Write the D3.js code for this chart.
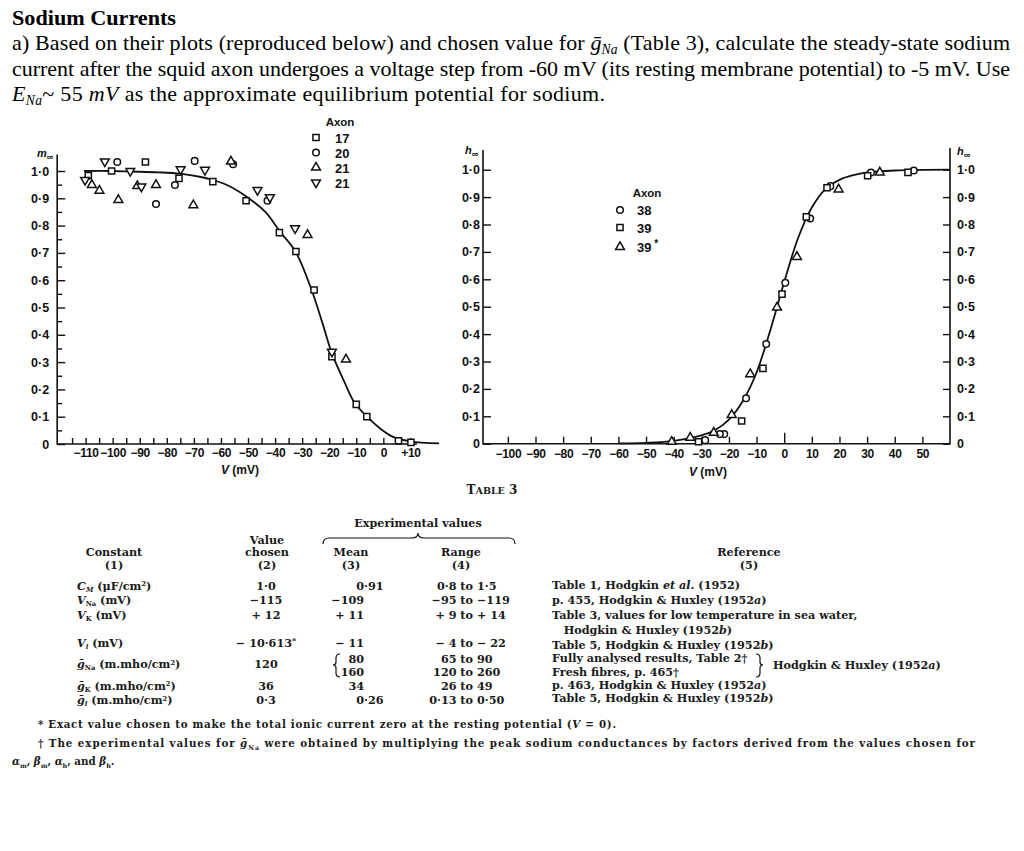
<!DOCTYPE html>
<html>
<head>
<meta charset="utf-8">
<script src="https://cdn.jsdelivr.net/npm/d3@7"></script>
<style>
  body { margin: 0; background: #fff; }
  svg { display: block; }
  .q text { font-family: "Liberation Serif", "Times New Roman", serif; font-size: 22px; fill: #000; }
  .ax text, .lab, .leg text { font-family: "Liberation Sans", Arial, sans-serif; fill: #111; font-weight: bold; }
  .ax line { stroke: #111; stroke-width: 1.4; }
  .tb text { font-family: "DejaVu Serif", serif; font-size: 11.2px; font-weight: bold; fill: #1a1a1a; }
  .fn text { font-family: "DejaVu Serif", serif; font-size: 10.3px; font-weight: bold; fill: #1a1a1a; }
</style>
</head>
<body>
<div id="page"></div>
<script>
// ---- left plot (m-infinity) data, V in mV ----
const leftAxon17 = [[-109.0,0.983],[-100.4,1.0],[-87.9,1.033],[-75.5,0.973],[-63.0,0.961],[-50.7,0.891],
  [-38.4,0.774],[-32.3,0.705],[-25.6,0.564],[-19.0,0.32],[-10.0,0.145],[-6.1,0.10],[5.6,0.012],[10.2,0.006]];
const leftAxon20 = [[-98.3,1.033],[-84.0,0.879],[-77.0,0.949],[-69.7,1.037],[-55.5,1.025],[-42.8,0.891]];
const leftAxon21a = [[-107.7,0.949],[-104.9,0.928],[-97.9,0.894],[-90.9,0.945],[-84.0,0.949],[-70.2,0.875],
  [-56.3,1.035],[-28.0,0.766],[-13.8,0.31]];
const leftAxon21b = [[-110.2,0.967],[-102.9,1.035],[-93.5,1.0],[-89.4,0.943],[-74.9,1.006],[-65.9,1.004],
  [-46.5,0.93],[-41.9,0.904],[-32.6,0.79],[-19.0,0.338]];
const leftCurve = [[-110.6,1.0],[-100.5,1.0],[-93.2,0.998],[-82.9,0.995],[-75.1,0.99],[-67.4,0.978],[-62.9,0.967],
  [-57.0,0.945],[-50.4,0.905],[-43.6,0.85],[-38.2,0.778],[-32.4,0.704],[-26.5,0.564],[-22.4,0.44],[-19.0,0.332],
  [-14.6,0.232],[-10.5,0.149],[-6.0,0.10],[-1.1,0.056],[3.6,0.026],[9.8,0.01],[20.6,0.002]];

// ---- right plot (h-infinity) data ----
const rightAxon38 = [[46.9,0.997],[31.4,0.99],[16.7,0.94],[9.4,0.822],[0.4,0.587],[-6.5,0.364],[-13.8,0.166],
  [-21.7,0.035],[-23.3,0.035],[-28.6,0.013]];
const rightAxon39 = [[44.8,0.99],[30.2,0.978],[15.5,0.934],[8.0,0.828],[-0.8,0.546],[-7.7,0.275],[-15.4,0.083],[-31,0.007]];
const rightAxon39s = [[34.6,0.99],[19.7,0.928],[4.6,0.682],[-2.6,0.497],[-12.3,0.254],[-19,0.105],[-25.5,0.04],
  [-34,0.022],[-40.7,0.007]];
const rightCurve = [[-60,0.001],[-50,0.003],[-40,0.01],[-30,0.03],[-25,0.05],[-20,0.088],[-15,0.155],[-10,0.26],
  [-5,0.415],[0,0.59],[5,0.75],[10,0.862],[15,0.93],[20,0.963],[25,0.98],[30,0.99],[40,0.997],[60,1.0]];

// ---- ticks ----
const yTicks = [0,0.1,0.2,0.3,0.4,0.5,0.6,0.7,0.8,0.9,1.0];
const yMinorL = [0.05,0.15,0.25,0.35,0.45,0.55,0.65,0.75,0.85,0.95];
const leftXTicks = [-110,-100,-90,-80,-70,-60,-50,-40,-30,-20,-10,0,10];
const leftXMinor = [-115,-105,-95,-85,-75,-65,-55,-45,-35,-25,-15,-5,5];
const rightXTicks = [-100,-90,-80,-70,-60,-50,-40,-30,-20,-10,0,10,20,30,40,50];

const leftLegend = [["square","17"],["circle","20"],["up","21"],["down","21"]];
const rightLegend = [["circle","38"],["square","39"],["up","39"]];

// ---- table 3 ----
const tConst = [
  [["C","i"],["M","i sub"],[" (μF/cm"],["2","sup"],[")"]],
  [["V","i"],["Na","sub"],[" (mV)"]],
  [["V","i"],["K","sub"],[" (mV)"]],
  [["V","i"],["l","i sub"],[" (mV)"]],
  [["ḡ","i"],["Na","sub"],[" (m.mho/cm"],["2","sup"],[")"]],
  [["ḡ","i"],["K","sub"],[" (m.mho/cm"],["2","sup"],[")"]],
  [["ḡ","i"],["l","i sub"],[" (m.mho/cm"],["2","sup"],[")"]]
];
const tChosen = ["1·0","−115","+ 12","− 10·613*","120","36","0·3"];
const tMean = [["0·91"],["−109"],["+ 11"],["− 11"],["80","160"],["34"],["0·26"]];
const tRange = [["0·8 to 1·5"],["−95 to −119"],["+ 9 to + 14"],["− 4 to − 22"],["65 to 90","120 to 260"],["26 to 49"],["0·13 to 0·50"]];
const tRefs = [
  [["Table 1, Hodgkin "],["et al.","i"],[" (1952)"]],
  [["p. 455, Hodgkin & Huxley (1952"],["a","i"],[")"]],
  [["Table 3, values for low temperature in sea water,"]],
  [["   Hodgkin & Huxley (1952"],["b","i"],[")"]],
  [["Table 5, Hodgkin & Huxley (1952"],["b","i"],[")"]],
  [["Fully analysed results, Table 2†"]],
  [["Fresh fibres, p. 465†"]],
  [["p. 463, Hodgkin & Huxley (1952"],["a","i"],[")"]],
  [["Table 5, Hodgkin & Huxley (1952"],["b","i"],[")"]]
];

const W = 1024, H = 851;
const svg = d3.select("#page").append("svg").attr("width", W).attr("height", H);

// rich text helper: parts are [string, flags]
function rich(text, parts, size, subK, subShift) {
  const k = subK || 0.7, ds = subShift || 0.25;
  let shift = 0;
  parts.forEach(p => {
    const fl = (p[1] || "").split(" ");
    const target = fl.includes("sub") ? size * ds : fl.includes("sup") ? -size * 0.3 : 0;
    const t = text.append("tspan").text(p[0]);
    if (target - shift !== 0) t.attr("dy", target - shift);
    shift = target;
    if (fl.includes("i")) t.style("font-style", "italic");
    if (fl.includes("sub") || fl.includes("sup")) t.style("font-size", (size * k) + "px");
  });
  return text;
}

// ---- question text ----
const q = svg.append("g").attr("class", "q");
q.append("text").attr("x", 12).attr("y", 25).style("font-weight", "bold")
  .attr("textLength", 164).attr("lengthAdjust", "spacingAndGlyphs").text("Sodium Currents");
rich(q.append("text").attr("x", 12).attr("y", 50).attr("textLength", 998), [
  ["a) Based on their plots (reproduced below) and chosen value for "], ["ḡ","i"], ["Na","i sub"],
  [" (Table 3), calculate the steady-state sodium"]], 22, 0.62, 0.18);
rich(q.append("text").attr("x", 12).attr("y", 76).attr("textLength", 998), [
  ["current after the squid axon undergoes a voltage step from -60 mV (its resting membrane potential) to -5 mV. Use"]], 22);
rich(q.append("text").attr("x", 12).attr("y", 101).attr("textLength", 593), [
  ["E","i"], ["Na","i sub"], ["~ 55 "], ["mV","i"], [" as the approximate equilibrium potential for sodium."]], 22, 0.62, 0.18);

// ---- shared marker drawing ----
const symbols = {
  square: d3.symbol(d3.symbolSquare, 38)(),
  circle: d3.symbol(d3.symbolCircle, 34)(),
  up: d3.symbol(d3.symbolTriangle, 34)(),
  down: d3.symbol(d3.symbolTriangle, 34)()
};
function marker(g, shape, cx, cy) {
  return g.append("path").attr("d", symbols[shape])
    .attr("transform", `translate(${cx},${cy})` + (shape === "down" ? " rotate(180)" : ""))
    .attr("fill", "#fff").attr("stroke", "#111").attr("stroke-width", 1.5);
}
function drawSeries(g, data, shape, x, y) {
  data.forEach(d => marker(g, shape, x(d[0]), y(d[1])));
}
const fmtY = v => v === 0 ? "0" : v.toFixed(1).replace(".", "·");
const styleY = g => g.selectAll("text").style("font-size", "12.5px");
const styleX = g => g.selectAll("text").style("font-size", "12px").style("letter-spacing", "-0.3px");

// ================= LEFT PLOT =================
const xL = d3.scaleLinear().domain([-120.5, 12.4]).range([57.2, 416.9]);
const yL = d3.scaleLinear().domain([0, 1]).range([444, 171]);
const gL = svg.append("g");

gL.append("g").attr("class", "ax").attr("transform", `translate(${xL(-120.5)},0)`)
  .call(d3.axisLeft(yL).tickValues(yTicks).tickFormat(fmtY).tickSizeInner(-8).tickSizeOuter(0).tickPadding(8))
  .call(g => g.select(".domain").remove()).call(styleY);
gL.append("g").attr("class", "ax").attr("transform", `translate(${xL(-120.5)},0)`)
  .call(d3.axisLeft(yL).tickValues(yMinorL).tickFormat("").tickSizeInner(-5).tickSizeOuter(0))
  .call(g => g.select(".domain").remove());
gL.append("g").attr("class", "ax").attr("transform", `translate(0,${yL(0)})`)
  .call(d3.axisBottom(xL).tickValues(leftXTicks)
    .tickFormat(v => v < 0 ? "−" + (-v) : v > 0 ? "+" + v : "0")
    .tickSizeInner(-6).tickSizeOuter(0).tickPadding(4))
  .call(g => g.select(".domain").remove()).call(styleX);
gL.append("g").attr("class", "ax").attr("transform", `translate(0,${yL(0)})`)
  .call(d3.axisBottom(xL).tickValues(leftXMinor).tickFormat("").tickSizeInner(-6).tickSizeOuter(0))
  .call(g => g.select(".domain").remove());
gL.append("path").attr("fill", "none").attr("stroke", "#111").attr("stroke-width", 1.6)
  .attr("d", `M${xL(-120.5)},${yL(1.06)}V${yL(0)}H${xL(12.4)}`);

gL.append("path").datum(leftCurve).attr("fill", "none").attr("stroke", "#111").attr("stroke-width", 1.8)
  .attr("d", d3.line().x(d => xL(d[0])).y(d => yL(d[1])).curve(d3.curveCatmullRom.alpha(0.5)));

drawSeries(gL, leftAxon17, "square", xL, yL);
drawSeries(gL, leftAxon20, "circle", xL, yL);
drawSeries(gL, leftAxon21a, "up", xL, yL);
drawSeries(gL, leftAxon21b, "down", xL, yL);

rich(gL.append("text").attr("class", "lab").attr("x", 37).attr("y", 157).style("font-size", "11px"),
  [["m","i"], ["∞","sub"]], 11, 0.85);
rich(gL.append("text").attr("class", "lab").attr("x", 240).attr("y", 474).attr("text-anchor", "middle").style("font-size", "12px"),
  [["V","i"], [" (mV)"]], 12);

const legL = gL.append("g").attr("class", "leg");
legL.append("text").attr("x", 340).attr("y", 126).attr("text-anchor", "middle").style("font-size", "11.5px").text("Axon");
leftLegend.forEach((d, i) => {
  const cy = 137.5 + i * 15;
  marker(legL, d[0], 316, cy);
  legL.append("text").attr("x", 335).attr("y", cy + 5).style("font-size", "13px").text(d[1]);
});

// ================= RIGHT PLOT =================
const xR = d3.scaleLinear().domain([-109, 60]).range([483, 950]);
const yR = d3.scaleLinear().domain([0, 1]).range([443.7, 169.7]);
const gR = svg.append("g");

gR.append("g").attr("class", "ax").attr("transform", `translate(${xR(-109)},0)`)
  .call(d3.axisLeft(yR).tickValues(yTicks).tickFormat(fmtY).tickSizeInner(-8).tickSizeOuter(0).tickPadding(3))
  .call(g => g.select(".domain").remove()).call(styleY);
gR.append("g").attr("class", "ax").attr("transform", `translate(${xR(60)},0)`)
  .call(d3.axisRight(yR).tickValues(yTicks).tickFormat(fmtY).tickSizeInner(-7).tickSizeOuter(0).tickPadding(7))
  .call(g => g.select(".domain").remove()).call(styleY);
gR.append("g").attr("class", "ax").attr("transform", `translate(0,${yR(0)})`)
  .call(d3.axisBottom(xR).tickValues(rightXTicks).tickFormat(v => v < 0 ? "−" + (-v) : String(v))
    .tickSizeInner(-7).tickSizeOuter(0).tickPadding(6))
  .call(g => g.select(".domain").remove())
  .call(g => g.selectAll(".tick").filter(v => v === 0).select("line").attr("y2", -11))
  .call(styleX);
gR.append("path").attr("fill", "none").attr("stroke", "#111").attr("stroke-width", 1.6)
  .attr("d", `M${xR(-109)},${yR(1.072)}V${yR(0)}H${xR(60)}V${yR(1.079)}`);

gR.append("path").datum(rightCurve).attr("fill", "none").attr("stroke", "#111").attr("stroke-width", 1.8)
  .attr("d", d3.line().x(d => xR(d[0])).y(d => yR(d[1])).curve(d3.curveCatmullRom.alpha(0.5)));

drawSeries(gR, rightAxon38, "circle", xR, yR);
drawSeries(gR, rightAxon39, "square", xR, yR);
drawSeries(gR, rightAxon39s, "up", xR, yR);

rich(gR.append("text").attr("class", "lab").attr("x", 465).attr("y", 154).style("font-size", "11px"),
  [["h","i"], ["∞","sub"]], 11, 0.85);
rich(gR.append("text").attr("class", "lab").attr("x", 957).attr("y", 155).style("font-size", "11px"),
  [["h","i"], ["∞","sub"]], 11, 0.85);
rich(gR.append("text").attr("class", "lab").attr("x", 708).attr("y", 476).attr("text-anchor", "middle").style("font-size", "12px"),
  [["V","i"], [" (mV)"]], 12);

const legR = gR.append("g").attr("class", "leg");
legR.append("text").attr("x", 647).attr("y", 197).attr("text-anchor", "middle").style("font-size", "11.5px").text("Axon");
rightLegend.forEach((d, i) => {
  const cy = [210, 227.5, 247][i];
  marker(legR, d[0], 620, cy);
  const t = legR.append("text").attr("x", 637).attr("y", cy + 5).style("font-size", "13px").text(d[1]);
  if (i === 2) t.append("tspan").attr("dy", -5).style("font-size", "10px").text(" *");
});

// ================= TABLE 3 =================
const tb = svg.append("g").attr("class", "tb");
const cText = (x, y, s, anchor) => tb.append("text").attr("x", x).attr("y", y).attr("text-anchor", anchor || "middle").text(s);

const smallCaps = tb.append("text").attr("x", 492).attr("y", 494).attr("text-anchor", "middle");
smallCaps.append("tspan").style("font-size", "12px").text("T");
smallCaps.append("tspan").style("font-size", "9.5px").text("ABLE");
smallCaps.append("tspan").style("font-size", "12px").text(" 3");

cText(418, 527, "Experimental values");
tb.append("path").attr("fill", "none").attr("stroke", "#111").attr("stroke-width", 1.2)
  .attr("d", "M323,544Q323,538 329,538L412,538Q418,538 418,533Q418,538 424,538L509,538Q515,538 515,544");

cText(267, 544, "Value");
[[114, "Constant", "(1)"], [267, "chosen", "(2)"], [351, "Mean", "(3)"], [461, "Range", "(4)"], [749, "Reference", "(5)"]]
  .forEach(h => { cText(h[0], 556, h[1]); cText(h[0], 569, h[2]); });

const rowY = [589.5, 604, 618.5, 647, 668, 689.5, 704];
const splitY = [662.5, 675.5];
tConst.forEach((parts, i) => rich(tb.append("text").attr("x", 77).attr("y", rowY[i]), parts, 11.2, 0.6, 0.2));
tChosen.forEach((s, i) => {
  const t = tb.append("text").attr("x", 266).attr("y", rowY[i]).attr("text-anchor", "middle");
  if (s.endsWith("*")) {
    t.append("tspan").text(s.slice(0, -1));
    t.append("tspan").attr("dy", -4).style("font-size", "8px").text("*");
  } else t.text(s);
});
const decimalAlign = (x, y, s) => {
  const k = s.indexOf("·");
  const head = k < 0 ? s : s.slice(0, k);
  cText(x, y, head, "end");
  if (k >= 0) cText(x, y, s.slice(k), "start");
};
tMean.forEach((arr, i) => arr.forEach((s, j) => decimalAlign(364, arr.length > 1 ? splitY[j] : rowY[i], s)));
tRange.forEach((arr, i) => arr.forEach((s, j) => {
  const y = arr.length > 1 ? splitY[j] : rowY[i];
  const parts = s.split(" to ");
  cText(473, y, parts[0] + " to", "end");
  cText(477, y, parts[1], "start");
}));
// brace grouping 80 / 160
tb.append("path").attr("fill", "none").attr("stroke", "#111").attr("stroke-width", 1.2)
  .attr("d", "M340,654Q336,654 336,658L336,662Q336,665 333,665Q336,665 336,668L336,673Q336,677 340,677");

const refY = [589, 604, 619, 634, 649, 662.3, 675.7, 689, 702.3];
tRefs.forEach((parts, i) => rich(tb.append("text").attr("x", 552).attr("y", refY[i]).style("white-space", "pre"), parts, 11.2));
tb.append("path").attr("fill", "none").attr("stroke", "#111").attr("stroke-width", 1.2)
  .attr("d", "M756,654Q760,654 760,658L760,662Q760,665 763,665Q760,665 760,668L760,673Q760,677 756,677");
rich(tb.append("text").attr("x", 773).attr("y", 669), [["Hodgkin & Huxley (1952"], ["a","i"], [")"]], 11.2);

// ---- footnotes ----
const fn = svg.append("g").attr("class", "fn");
rich(fn.append("text").attr("x", 38).attr("y", 728).attr("textLength", 578),
  [["* Exact value chosen to make the total ionic current zero at the resting potential ("], ["V","i"], [" = 0)."]], 10.3);
rich(fn.append("text").attr("x", 38).attr("y", 747).attr("textLength", 937),
  [["† The experimental values for "], ["ḡ","i"], ["Na","sub"],
   [" were obtained by multiplying the peak sodium conductances by factors derived from the values chosen for"]], 10.3, 0.62);
rich(fn.append("text").attr("x", 12).attr("y", 765),
  [["α","i"], ["m","sub"], [", "], ["β","i"], ["m","sub"], [", "], ["α","i"], ["h","sub"], [", and "], ["β","i"], ["h","sub"], ["."]], 10.3, 0.62);
</script>
</body>
</html>
